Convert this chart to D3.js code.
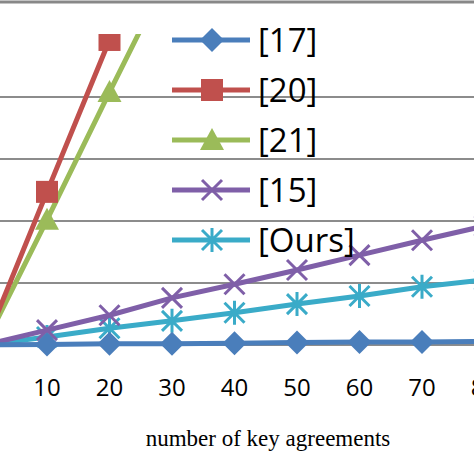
<!DOCTYPE html>
<html><head><meta charset="utf-8">
<script src="https://cdn.jsdelivr.net/npm/d3@7"></script>
<style>body{margin:0;background:#fff}</style></head>
<body><div id="chart"></div>
<script>
const xVals = [0, 10, 20, 30, 40, 50, 60, 70, 80];
const s17 = [0, 0.01, 0.02, 0.02, 0.03, 0.04, 0.05, 0.05, 0.06];
const s20 = [0, 2.47, 4.92];
const s21 = [0, 2.02, 4.08, 6.1];
const s15 = [0, 0.24, 0.48, 0.76, 0.98, 1.21, 1.45, 1.69, 1.92];
const sOurs = [0, 0.13, 0.27, 0.39, 0.52, 0.66, 0.79, 0.94, 1.05];
const seriesNames = ["[17]", "[20]", "[21]", "[15]", "[Ours]"];
const xTicks = [10, 20, 30, 40, 50, 60, 70, 80];
const gridVals = [1, 2, 3, 4];

const W = 474, H = 474;
const svg = d3.select("#chart").append("svg").attr("width", W).attr("height", H);
const x = d3.scaleLinear().domain([0, 10]).range([-15.5, 47]);
const y = d3.scaleLinear().domain([0, 1]).range([345, 283]);

svg.append("defs").append("clipPath").attr("id", "plot")
  .append("rect").attr("x", 0).attr("y", 34).attr("width", W).attr("height", 350);

svg.append("line").attr("x1", 0).attr("x2", W).attr("y1", 2).attr("y2", 2)
  .attr("stroke", "#888").attr("stroke-width", 3);
svg.selectAll(".grid").data(gridVals).join("line")
  .attr("x1", 0).attr("x2", W).attr("y1", d => y(d)).attr("y2", d => y(d))
  .attr("stroke", "#8c8c8c").attr("stroke-width", 2);
svg.append("line").attr("x1", 0).attr("x2", W).attr("y1", y(0)).attr("y2", y(0))
  .attr("stroke", "#8c8c8c").attr("stroke-width", 2);

svg.selectAll(".tick").data(xTicks).join("text")
  .attr("x", d => x(d)).attr("y", 396).attr("text-anchor", "middle")
  .attr("font-family", "Open Sans, sans-serif").attr("font-size", 24).text(d => d);

svg.append("text").attr("x", 268).attr("y", 446).attr("text-anchor", "middle")
  .attr("font-family", "Liberation Serif, serif").attr("font-size", 23)
  .text("number of key agreements");

const series = [
  { name: seriesNames[0], vals: s17, color: "#4a7ebb", mark: "diamond" },
  { name: seriesNames[1], vals: s20, color: "#c0504d", mark: "square" },
  { name: seriesNames[2], vals: s21, color: "#9bbb59", mark: "triangle" },
  { name: seriesNames[3], vals: s15, color: "#7f5fa8", mark: "x" },
  { name: seriesNames[4], vals: sOurs, color: "#3aabc8", mark: "star" }
];

const line = d3.line().x((d, i) => x(xVals[i])).y(d => y(d));
const g = svg.append("g").attr("clip-path", "url(#plot)");

function marker(sel, s, cx, cy) {
  const c = s.color;
  if (s.mark === "diamond") sel.append("path").attr("d", `M${cx},${cy-12}L${cx+12},${cy}L${cx},${cy+12}L${cx-12},${cy}Z`).attr("fill", c);
  else if (s.mark === "square") sel.append("rect").attr("x", cx-11).attr("y", cy-11).attr("width", 22).attr("height", 22).attr("fill", c);
  else if (s.mark === "triangle") sel.append("path").attr("d", `M${cx},${cy-12}L${cx+12},${cy+10}L${cx-12},${cy+10}Z`).attr("fill", c);
  else if (s.mark === "x") sel.append("path").attr("d", `M${cx-10},${cy-10}L${cx+10},${cy+10}M${cx-10},${cy+10}L${cx+10},${cy-10}`).attr("stroke", c).attr("stroke-width", 3);
  else sel.append("path").attr("d", `M${cx-10},${cy-10}L${cx+10},${cy+10}M${cx-10},${cy+10}L${cx+10},${cy-10}M${cx},${cy-12}L${cx},${cy+12}`).attr("stroke", c).attr("stroke-width", 3);
}

// draw in reverse so [17] sits on top
[...series].reverse().forEach(s => {
  g.append("path").attr("d", line(s.vals)).attr("fill", "none")
    .attr("stroke", s.color).attr("stroke-width", 5);
  s.vals.forEach((v, i) => {
    if (i === 0 || (s.name === "[21]" && i === 3)) return;
    marker(g, s, x(xVals[i]), y(v));
  });
});

// legend
series.forEach((s, i) => {
  const ly = 40 + i * 50;
  svg.append("line").attr("x1", 172).attr("x2", 250).attr("y1", ly).attr("y2", ly)
    .attr("stroke", s.color).attr("stroke-width", 5);
  marker(svg, s, 212, ly);
  svg.append("text").attr("x", 258).attr("y", ly + 12)
    .attr("font-family", "Open Sans, sans-serif").attr("font-size", 33).text(s.name);
});
</script></body></html>
